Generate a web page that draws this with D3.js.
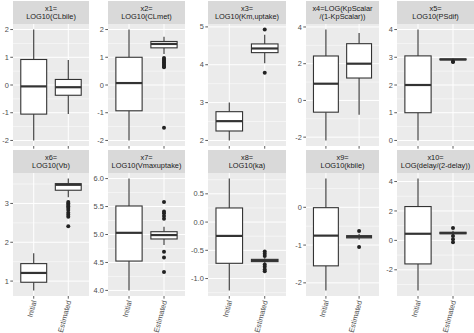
<!DOCTYPE html>
<html lang="en">
<head>
<meta charset="UTF-8">
<title>Initial vs Estimated parameter distributions</title>
<script src="https://cdn.jsdelivr.net/npm/d3@7"></script>
<style>
	body { margin: 0; background: #fff; }
	#container { opacity: 0.999; }
	svg { display: block; font-family: "Liberation Sans", Arial, sans-serif; }
	.strip text { fill: #1a1a1a; font-size: 7.4px; }
	.tick-label { fill: #4d4d4d; font-size: 7.4px; }
</style>
</head>
<body>
<div id="container"></div>
<script>
	var width = 474, height = 333;

	// x-axis groups shared by every panel
	var groups = ["Initial", "Estimated"];

	var stripLabels = [
		["x1=", "LOG10(CLbile)"],
		["x2=", "LOG10(CLmet)"],
		["x3=", "LOG10(Km,uptake)"],
		["x4=LOG(KpScalar", "/(1-KpScalar))"],
		["x5=", "LOG10(PSdif)"],
		["x6=", "LOG10(Vb)"],
		["x7=", "LOG10(Vmaxuptake)"],
		["x8=", "LOG10(ka)"],
		["x9=", "LOG10(kbile)"],
		["x10=", "LOG(delay/(2-delay))"]
	];

	var yTicks = [
		[-2, -1, 0, 1, 2],
		[-2, -1, 0, 1, 2],
		[2, 3, 4, 5],
		[-2, 0, 2, 4],
		[0, 1, 2, 3, 4],
		[1, 2, 3],
		[4.0, 4.5, 5.0, 5.5, 6.0],
		[-1.0, -0.5, 0.0, 0.5],
		[-2, -1, 0],
		[-2, 0, 2, 4]
	];
	var tickDecimals = [0, 0, 0, 0, 0, 0, 1, 1, 0, 0];

	// [lower whisker, q1, median, q3, upper whisker]
	var initialStats = [
		[-2.0, -1.05, -0.05, 0.92, 2.0],
		[-2.0, -0.93, 0.07, 1.0, 2.0],
		[2.0, 2.25, 2.51, 2.76, 3.0],
		[-2.18, -0.64, 0.91, 2.42, 3.86],
		[0.0, 1.0, 2.0, 3.05, 4.0],
		[0.76, 0.97, 1.21, 1.45, 1.72],
		[4.0, 4.525, 5.03, 5.51, 6.0],
		[-1.21, -0.73, -0.245, 0.25, 0.77],
		[-2.2, -1.55, -0.75, -0.01, 0.76],
		[-3.4, -1.6, 0.45, 2.3, 4.2]
	];

	var estimatedStats = [
		[-1.05, -0.37, -0.08, 0.2, 0.9],
		[1.12, 1.34, 1.48, 1.57, 1.74],
		[4.04, 4.32, 4.43, 4.55, 4.79],
		[-0.78, 1.22, 2.0, 3.09, 3.67],
		[2.89, 2.91, 2.92, 2.94, 2.96],
		[3.16, 3.34, 3.48, 3.51, 3.64],
		[4.81, 4.92, 4.99, 5.05, 5.14],
		[-0.72, -0.70, -0.68, -0.66, -0.64],
		[-0.86, -0.81, -0.78, -0.75, -0.70],
		[0.35, 0.45, 0.5, 0.55, 0.65]
	];

	var estimatedOutliers = [
		[],
		[0.97, 0.92, 0.87, 0.82, 0.77, 0.72, 0.67, 0.64, -1.54],
		[4.93, 3.79],
		[],
		[2.85, 2.83],
		[3.04, 3.0, 2.96, 2.92, 2.88, 2.83, 2.76, 2.71, 2.66, 2.41],
		[5.58, 5.41, 5.38, 5.33, 5.28, 4.69, 4.59, 4.33],
		[-0.52, -0.56, -0.6, -0.75, -0.79, -0.84, -0.87],
		[-0.63, -1.05],
		[0.84, 0.29, 0.07, -0.12]
	];

	// panel layout
	var colLeft = [13, 108, 208, 306, 397];
	var colRight = [89, 185, 286, 379, 474];
	var stripTop = [1, 150];
	var stripH = 23;
	var plotH = [122, 123];

	var svg = d3.select("#container").append("svg")
		.attr("width", width)
		.attr("height", height);

	var fmtHyphen = function(dec) {
		var f = d3.format("." + dec + "f");
		return function(v) { return f(v).replace("\u2212", "-"); };
	};

	stripLabels.forEach(function(label, i) {
		var col = i % 5, row = Math.floor(i / 5);
		var x0 = colLeft[col], x1 = colRight[col];
		var top = stripTop[row] + stripH;
		var bottom = top + plotH[row];

		var outl = estimatedOutliers[i];
		var all = initialStats[i].concat(estimatedStats[i], outl);
		var ext = d3.extent(all);
		var pad = (ext[1] - ext[0]) * 0.05;

		var y = d3.scaleLinear()
			.domain([ext[0] - pad, ext[1] + pad])
			.range([bottom, top]);

		var x = d3.scaleLinear()
			.domain([0.4, 2.6])
			.range([x0, x1]);

		var g = svg.append("g");

		// strip
		var strip = g.append("g").attr("class", "strip");
		strip.append("rect")
			.attr("x", x0).attr("y", stripTop[row])
			.attr("width", x1 - x0).attr("height", stripH)
			.attr("fill", "#d9d9d9");
		var cy = stripTop[row] + stripH / 2;
		strip.append("text")
			.attr("x", (x0 + x1) / 2).attr("y", cy - 4.3)
			.attr("dy", "0.35em")
			.attr("text-anchor", "middle")
			.text(label[0]);
		strip.append("text")
			.attr("x", (x0 + x1) / 2).attr("y", cy + 4.3)
			.attr("dy", "0.35em")
			.attr("text-anchor", "middle")
			.text(label[1]);

		// panel background and grid
		g.append("rect")
			.attr("x", x0).attr("y", top)
			.attr("width", x1 - x0).attr("height", bottom - top)
			.attr("fill", "#ebebeb");

		var ticks = yTicks[i];
		var step = ticks[1] - ticks[0];
		var minor = [ticks[0] - step / 2].concat(ticks.map(function(t) { return t + step / 2; }))
			.filter(function(v) { return v > y.domain()[0] && v < y.domain()[1]; });

		g.selectAll(".minor").data(minor).enter().append("line")
			.attr("x1", x0).attr("x2", x1)
			.attr("y1", function(d) { return y(d); })
			.attr("y2", function(d) { return y(d); })
			.attr("stroke", "#fff").attr("stroke-width", 0.5);

		g.selectAll(".major").data(ticks).enter().append("line")
			.attr("x1", x0).attr("x2", x1)
			.attr("y1", function(d) { return y(d); })
			.attr("y2", function(d) { return y(d); })
			.attr("stroke", "#fff").attr("stroke-width", 1);

		g.selectAll(".vgrid").data([1, 2]).enter().append("line")
			.attr("x1", function(d) { return x(d); })
			.attr("x2", function(d) { return x(d); })
			.attr("y1", top).attr("y2", bottom)
			.attr("stroke", "#fff").attr("stroke-width", 1);

		// y axis
		var fmt = fmtHyphen(tickDecimals[i]);
		var yAxis = g.append("g");
		yAxis.selectAll("line").data(ticks).enter().append("line")
			.attr("x1", x0 - 2.7).attr("x2", x0)
			.attr("y1", function(d) { return y(d); })
			.attr("y2", function(d) { return y(d); })
			.attr("stroke", "#333").attr("stroke-width", 0.8);
		yAxis.selectAll("text").data(ticks).enter().append("text")
			.attr("class", "tick-label")
			.attr("x", x0 - 4.2)
			.attr("y", function(d) { return y(d); })
			.attr("dy", "0.35em")
			.attr("text-anchor", "end")
			.text(fmt);

		// x axis (bottom row only carries labels)
		var xAxis = g.append("g");
		xAxis.selectAll("line").data([1, 2]).enter().append("line")
			.attr("x1", function(d) { return x(d); })
			.attr("x2", function(d) { return x(d); })
			.attr("y1", bottom).attr("y2", bottom + 2.7)
			.attr("stroke", "#333").attr("stroke-width", 0.8);
		if (row === 1) {
			xAxis.selectAll("text").data(groups).enter().append("text")
				.attr("class", "tick-label")
				.attr("text-anchor", "end")
				.attr("dy", "0.35em")
				.attr("transform", function(d, k) {
					return "translate(" + (x(k + 1) + 0.5) + "," + (bottom + 4.5) + ") rotate(-75)";
				})
				.text(function(d) { return d; });
		}

		// boxplots
		var boxes = [initialStats[i], estimatedStats[i]];
		var bw = (x(1.375) - x(0.625));
		boxes.forEach(function(s, k) {
			var cx = x(k + 1);
			g.append("line")
				.attr("x1", cx).attr("x2", cx)
				.attr("y1", y(s[0])).attr("y2", y(s[1]))
				.attr("stroke", "#333").attr("stroke-width", 1.1);
			g.append("line")
				.attr("x1", cx).attr("x2", cx)
				.attr("y1", y(s[3])).attr("y2", y(s[4]))
				.attr("stroke", "#333").attr("stroke-width", 1.1);
			g.append("rect")
				.attr("x", cx - bw / 2).attr("width", bw)
				.attr("y", y(s[3])).attr("height", Math.max(0, y(s[1]) - y(s[3])))
				.attr("fill", "#fff")
				.attr("stroke", "#333").attr("stroke-width", 1.1);
			g.append("line")
				.attr("x1", cx - bw / 2).attr("x2", cx + bw / 2)
				.attr("y1", y(s[2])).attr("y2", y(s[2]))
				.attr("stroke", "#333").attr("stroke-width", 2.2);
		});

		g.selectAll(".outlier").data(outl).enter().append("circle")
			.attr("cx", x(2))
			.attr("cy", function(d) { return y(d); })
			.attr("r", 2)
			.attr("fill", "#222");
	});
</script>
</body>
</html>
